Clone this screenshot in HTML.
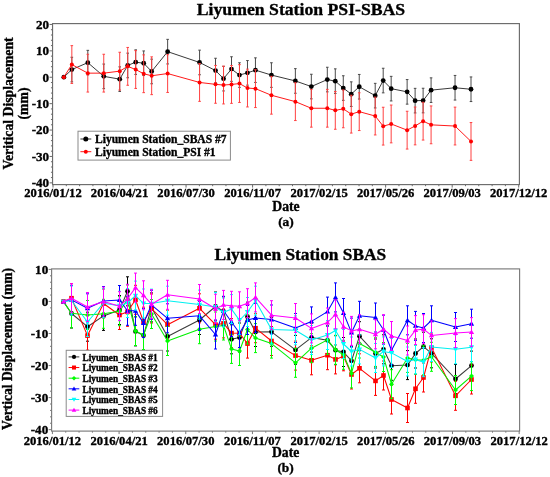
<!DOCTYPE html>
<html><head><meta charset="utf-8"><title>Liyumen Station</title>
<style>html,body{margin:0;padding:0;background:#fff;width:550px;height:477px;overflow:hidden}svg{display:block}</style>
</head><body>
<svg width="550" height="477" viewBox="0 0 550 477">
<rect width="550" height="477" fill="#fff"/>
<g>
<path d="M49.55,182.85H52.55M50.95,177.57H52.55M50.95,172.29H52.55M50.95,167.01H52.55M50.95,161.73H52.55M49.55,156.45H52.55M50.95,151.17H52.55M50.95,145.89H52.55M50.95,140.61H52.55M50.95,135.33H52.55M49.55,130.05H52.55M50.95,124.77H52.55M50.95,119.49H52.55M50.95,114.21H52.55M50.95,108.93H52.55M49.55,103.65H52.55M50.95,98.37H52.55M50.95,93.09H52.55M50.95,87.81H52.55M50.95,82.53H52.55M49.55,77.25H52.55M50.95,71.97H52.55M50.95,66.69H52.55M50.95,61.41H52.55M50.95,56.13H52.55M49.55,50.85H52.55M50.95,45.57H52.55M50.95,40.29H52.55M50.95,35.01H52.55M50.95,29.73H52.55M49.55,24.45H52.55M53.00,184.6V187.60M66.31,184.6V186.20M79.61,184.6V186.20M92.92,184.6V186.20M106.22,184.6V186.20M119.53,184.6V187.60M132.84,184.6V186.20M146.14,184.6V186.20M159.45,184.6V186.20M172.75,184.6V186.20M186.06,184.6V187.60M199.37,184.6V186.20M212.67,184.6V186.20M225.98,184.6V186.20M239.28,184.6V186.20M252.59,184.6V187.60M265.90,184.6V186.20M279.20,184.6V186.20M292.51,184.6V186.20M305.81,184.6V186.20M319.12,184.6V187.60M332.43,184.6V186.20M345.73,184.6V186.20M359.04,184.6V186.20M372.34,184.6V186.20M385.65,184.6V187.60M398.96,184.6V186.20M412.26,184.6V186.20M425.57,184.6V186.20M438.87,184.6V186.20M452.18,184.6V187.60M465.49,184.6V186.20M478.79,184.6V186.20M492.10,184.6V186.20M505.40,184.6V186.20M518.71,184.6V187.60" stroke="#6b6b6b" stroke-width="1" fill="none"/>
<rect x="52.55" y="23.6" width="466.85" height="161.00" fill="none" stroke="#6b6b6b" stroke-width="1.15"/>
<text transform="translate(49.15,187.15) scale(1,1.0)" text-anchor="end" font-size="13.1" font-family="'Liberation Serif','Times New Roman',serif" font-weight="bold" stroke="#000" stroke-width="0.35">-40</text>
<text transform="translate(49.15,160.75) scale(1,1.0)" text-anchor="end" font-size="13.1" font-family="'Liberation Serif','Times New Roman',serif" font-weight="bold" stroke="#000" stroke-width="0.35">-30</text>
<text transform="translate(49.15,134.35) scale(1,1.0)" text-anchor="end" font-size="13.1" font-family="'Liberation Serif','Times New Roman',serif" font-weight="bold" stroke="#000" stroke-width="0.35">-20</text>
<text transform="translate(49.15,107.95) scale(1,1.0)" text-anchor="end" font-size="13.1" font-family="'Liberation Serif','Times New Roman',serif" font-weight="bold" stroke="#000" stroke-width="0.35">-10</text>
<text transform="translate(49.15,81.55) scale(1,1.0)" text-anchor="end" font-size="13.1" font-family="'Liberation Serif','Times New Roman',serif" font-weight="bold" stroke="#000" stroke-width="0.35">0</text>
<text transform="translate(49.15,55.15) scale(1,1.0)" text-anchor="end" font-size="13.1" font-family="'Liberation Serif','Times New Roman',serif" font-weight="bold" stroke="#000" stroke-width="0.35">10</text>
<text transform="translate(49.15,28.75) scale(1,1.0)" text-anchor="end" font-size="13.1" font-family="'Liberation Serif','Times New Roman',serif" font-weight="bold" stroke="#000" stroke-width="0.35">20</text>
<text transform="translate(53.00,197.30) scale(1,1.0)" text-anchor="middle" font-size="12.6" font-family="'Liberation Serif','Times New Roman',serif" font-weight="bold" stroke="#000" stroke-width="0.35">2016/01/12</text>
<text transform="translate(119.53,197.30) scale(1,1.0)" text-anchor="middle" font-size="12.6" font-family="'Liberation Serif','Times New Roman',serif" font-weight="bold" stroke="#000" stroke-width="0.35">2016/04/21</text>
<text transform="translate(186.06,197.30) scale(1,1.0)" text-anchor="middle" font-size="12.6" font-family="'Liberation Serif','Times New Roman',serif" font-weight="bold" stroke="#000" stroke-width="0.35">2016/07/30</text>
<text transform="translate(252.59,197.30) scale(1,1.0)" text-anchor="middle" font-size="12.6" font-family="'Liberation Serif','Times New Roman',serif" font-weight="bold" stroke="#000" stroke-width="0.35">2016/11/07</text>
<text transform="translate(319.12,197.30) scale(1,1.0)" text-anchor="middle" font-size="12.6" font-family="'Liberation Serif','Times New Roman',serif" font-weight="bold" stroke="#000" stroke-width="0.35">2017/02/15</text>
<text transform="translate(385.65,197.30) scale(1,1.0)" text-anchor="middle" font-size="12.6" font-family="'Liberation Serif','Times New Roman',serif" font-weight="bold" stroke="#000" stroke-width="0.35">2017/05/26</text>
<text transform="translate(452.18,197.30) scale(1,1.0)" text-anchor="middle" font-size="12.6" font-family="'Liberation Serif','Times New Roman',serif" font-weight="bold" stroke="#000" stroke-width="0.35">2017/09/03</text>
<text transform="translate(518.71,197.30) scale(1,1.0)" text-anchor="middle" font-size="12.6" font-family="'Liberation Serif','Times New Roman',serif" font-weight="bold" stroke="#000" stroke-width="0.35">2017/12/12</text>
<text transform="translate(285.97,210.90) scale(1,1.0)" text-anchor="middle" font-size="13.7" font-family="'Liberation Serif','Times New Roman',serif" font-weight="bold" stroke="#000" stroke-width="0.35">Date</text>
<text transform="translate(285.97,225.90) scale(1,1.0)" text-anchor="middle" font-size="13.4" font-family="'Liberation Serif','Times New Roman',serif" font-weight="bold" stroke="#000" stroke-width="0.35">(a)</text>
<text transform="translate(301.00,14.70) scale(1,1.0)" text-anchor="middle" font-size="17.7" font-family="'Liberation Serif','Times New Roman',serif" font-weight="bold" stroke="#000" stroke-width="0.35">Liyumen Station PSI-SBAS</text>
<path d="M71.83,57.25V81.85M70.53,57.25h2.60M70.53,81.85h2.60M87.80,50.35V74.95M86.50,50.35h2.60M86.50,74.95h2.60M103.76,64.05V88.65M102.46,64.05h2.60M102.46,88.65h2.60M119.73,66.85V91.45M118.43,66.85h2.60M118.43,91.45h2.60M127.71,53.15V77.75M126.41,53.15h2.60M126.41,77.75h2.60M135.70,49.85V74.45M134.40,49.85h2.60M134.40,74.45h2.60M143.68,50.95V75.55M142.38,50.95h2.60M142.38,75.55h2.60M151.66,59.15V83.75M150.36,59.15h2.60M150.36,83.75h2.60M167.63,39.35V63.95M166.33,39.35h2.60M166.33,63.95h2.60M199.57,50.15V74.75M198.27,50.15h2.60M198.27,74.75h2.60M215.53,58.25V82.85M214.23,58.25h2.60M214.23,82.85h2.60M223.52,66.35V90.95M222.22,66.35h2.60M222.22,90.95h2.60M231.50,56.75V81.35M230.20,56.75h2.60M230.20,81.35h2.60M239.48,62.75V87.35M238.18,62.75h2.60M238.18,87.35h2.60M247.47,60.55V85.15M246.17,60.55h2.60M246.17,85.15h2.60M255.45,57.85V82.45M254.15,57.85h2.60M254.15,82.45h2.60M271.42,62.75V87.35M270.12,62.75h2.60M270.12,87.35h2.60M295.37,68.65V93.25M294.07,68.65h2.60M294.07,93.25h2.60M311.34,74.25V98.85M310.04,74.25h2.60M310.04,98.85h2.60M327.30,67.25V91.85M326.00,67.25h2.60M326.00,91.85h2.60M335.29,68.85V93.45M333.99,68.85h2.60M333.99,93.45h2.60M343.27,75.75V100.35M341.97,75.75h2.60M341.97,100.35h2.60M351.25,81.85V106.45M349.95,81.85h2.60M349.95,106.45h2.60M359.24,74.45V99.05M357.94,74.45h2.60M357.94,99.05h2.60M375.21,83.35V107.95M373.91,83.35h2.60M373.91,107.95h2.60M383.19,68.25V92.85M381.89,68.25h2.60M381.89,92.85h2.60M391.17,76.35V100.95M389.87,76.35h2.60M389.87,100.95h2.60M407.14,79.55V104.15M405.84,79.55h2.60M405.84,104.15h2.60M415.12,88.35V112.95M413.82,88.35h2.60M413.82,112.95h2.60M423.11,88.25V112.85M421.81,88.25h2.60M421.81,112.85h2.60M431.09,77.85V102.45M429.79,77.85h2.60M429.79,102.45h2.60M455.04,75.45V100.05M453.74,75.45h2.60M453.74,100.05h2.60M471.01,76.95V101.55M469.71,76.95h2.60M469.71,101.55h2.60" stroke="#4a4a4a" stroke-width="1.0" fill="none"/>
<polyline points="63.84,77.15 71.83,69.55 87.80,62.65 103.76,76.35 119.73,79.15 127.71,65.45 135.70,62.15 143.68,63.25 151.66,71.45 167.63,51.65 199.57,62.45 215.53,70.55 223.52,78.65 231.50,69.05 239.48,75.05 247.47,72.85 255.45,70.15 271.42,75.05 295.37,80.95 311.34,86.55 327.30,79.55 335.29,81.15 343.27,88.05 351.25,94.15 359.24,86.75 375.21,95.65 383.19,80.55 391.17,88.65 407.14,91.85 415.12,100.65 423.11,100.55 431.09,90.15 455.04,87.75 471.01,89.25" stroke="#3a3a3a" stroke-width="1.0" fill="none" stroke-linejoin="round"/>
<circle cx="63.84" cy="77.15" r="2.4" fill="#000"/>
<circle cx="71.83" cy="69.55" r="2.4" fill="#000"/>
<circle cx="87.80" cy="62.65" r="2.4" fill="#000"/>
<circle cx="103.76" cy="76.35" r="2.4" fill="#000"/>
<circle cx="119.73" cy="79.15" r="2.4" fill="#000"/>
<circle cx="127.71" cy="65.45" r="2.4" fill="#000"/>
<circle cx="135.70" cy="62.15" r="2.4" fill="#000"/>
<circle cx="143.68" cy="63.25" r="2.4" fill="#000"/>
<circle cx="151.66" cy="71.45" r="2.4" fill="#000"/>
<circle cx="167.63" cy="51.65" r="2.4" fill="#000"/>
<circle cx="199.57" cy="62.45" r="2.4" fill="#000"/>
<circle cx="215.53" cy="70.55" r="2.4" fill="#000"/>
<circle cx="223.52" cy="78.65" r="2.4" fill="#000"/>
<circle cx="231.50" cy="69.05" r="2.4" fill="#000"/>
<circle cx="239.48" cy="75.05" r="2.4" fill="#000"/>
<circle cx="247.47" cy="72.85" r="2.4" fill="#000"/>
<circle cx="255.45" cy="70.15" r="2.4" fill="#000"/>
<circle cx="271.42" cy="75.05" r="2.4" fill="#000"/>
<circle cx="295.37" cy="80.95" r="2.4" fill="#000"/>
<circle cx="311.34" cy="86.55" r="2.4" fill="#000"/>
<circle cx="327.30" cy="79.55" r="2.4" fill="#000"/>
<circle cx="335.29" cy="81.15" r="2.4" fill="#000"/>
<circle cx="343.27" cy="88.05" r="2.4" fill="#000"/>
<circle cx="351.25" cy="94.15" r="2.4" fill="#000"/>
<circle cx="359.24" cy="86.75" r="2.4" fill="#000"/>
<circle cx="375.21" cy="95.65" r="2.4" fill="#000"/>
<circle cx="383.19" cy="80.55" r="2.4" fill="#000"/>
<circle cx="391.17" cy="88.65" r="2.4" fill="#000"/>
<circle cx="407.14" cy="91.85" r="2.4" fill="#000"/>
<circle cx="415.12" cy="100.65" r="2.4" fill="#000"/>
<circle cx="423.11" cy="100.55" r="2.4" fill="#000"/>
<circle cx="431.09" cy="90.15" r="2.4" fill="#000"/>
<circle cx="455.04" cy="87.75" r="2.4" fill="#000"/>
<circle cx="471.01" cy="89.25" r="2.4" fill="#000"/>
<path d="M71.83,45.65V83.45M70.53,45.65h2.60M70.53,83.45h2.60M87.80,54.25V92.05M86.50,54.25h2.60M86.50,92.05h2.60M103.76,54.25V92.05M102.46,54.25h2.60M102.46,92.05h2.60M119.73,52.25V90.05M118.43,52.25h2.60M118.43,90.05h2.60M127.71,47.45V85.25M126.41,47.45h2.60M126.41,85.25h2.60M135.70,50.65V88.45M134.40,50.65h2.60M134.40,88.45h2.60M143.68,54.85V92.65M142.38,54.85h2.60M142.38,92.65h2.60M151.66,56.85V94.65M150.36,56.85h2.60M150.36,94.65h2.60M167.63,54.65V92.45M166.33,54.65h2.60M166.33,92.45h2.60M199.57,63.55V101.35M198.27,63.55h2.60M198.27,101.35h2.60M215.53,65.45V103.25M214.23,65.45h2.60M214.23,103.25h2.60M223.52,66.15V103.95M222.22,66.15h2.60M222.22,103.95h2.60M231.50,65.55V103.35M230.20,65.55h2.60M230.20,103.35h2.60M239.48,64.65V102.45M238.18,64.65h2.60M238.18,102.45h2.60M247.47,69.15V106.95M246.17,69.15h2.60M246.17,106.95h2.60M255.45,69.75V107.55M254.15,69.75h2.60M254.15,107.55h2.60M271.42,76.35V114.15M270.12,76.35h2.60M270.12,114.15h2.60M295.37,82.75V120.55M294.07,82.75h2.60M294.07,120.55h2.60M311.34,89.35V127.15M310.04,89.35h2.60M310.04,127.15h2.60M327.30,89.35V127.15M326.00,89.35h2.60M326.00,127.15h2.60M335.29,91.45V129.25M333.99,91.45h2.60M333.99,129.25h2.60M343.27,89.95V127.75M341.97,89.95h2.60M341.97,127.75h2.60M351.25,95.25V133.05M349.95,95.25h2.60M349.95,133.05h2.60M359.24,92.75V130.55M357.94,92.75h2.60M357.94,130.55h2.60M375.21,97.15V134.95M373.91,97.15h2.60M373.91,134.95h2.60M383.19,107.25V145.05M381.89,107.25h2.60M381.89,145.05h2.60M391.17,105.05V142.85M389.87,105.05h2.60M389.87,142.85h2.60M407.14,111.25V149.05M405.84,111.25h2.60M405.84,149.05h2.60M415.12,107.05V144.85M413.82,107.05h2.60M413.82,144.85h2.60M423.11,102.25V140.05M421.81,102.25h2.60M421.81,140.05h2.60M431.09,105.95V143.75M429.79,105.95h2.60M429.79,143.75h2.60M455.04,107.15V144.95M453.74,107.15h2.60M453.74,144.95h2.60M471.01,122.55V160.35M469.71,122.55h2.60M469.71,160.35h2.60" stroke="#ff4040" stroke-width="1.0" fill="none"/>
<polyline points="63.84,77.15 71.83,64.55 87.80,73.15 103.76,73.15 119.73,71.15 127.71,66.35 135.70,69.55 143.68,73.75 151.66,75.75 167.63,73.55 199.57,82.45 215.53,84.35 223.52,85.05 231.50,84.45 239.48,83.55 247.47,88.05 255.45,88.65 271.42,95.25 295.37,101.65 311.34,108.25 327.30,108.25 335.29,110.35 343.27,108.85 351.25,114.15 359.24,111.65 375.21,116.05 383.19,126.15 391.17,123.95 407.14,130.15 415.12,125.95 423.11,121.15 431.09,124.85 455.04,126.05 471.01,141.45" stroke="#ff1a1a" stroke-width="1.0" fill="none" stroke-linejoin="round"/>
<circle cx="63.84" cy="77.15" r="2.0" fill="#f00"/>
<circle cx="71.83" cy="64.55" r="2.0" fill="#f00"/>
<circle cx="87.80" cy="73.15" r="2.0" fill="#f00"/>
<circle cx="103.76" cy="73.15" r="2.0" fill="#f00"/>
<circle cx="119.73" cy="71.15" r="2.0" fill="#f00"/>
<circle cx="127.71" cy="66.35" r="2.0" fill="#f00"/>
<circle cx="135.70" cy="69.55" r="2.0" fill="#f00"/>
<circle cx="143.68" cy="73.75" r="2.0" fill="#f00"/>
<circle cx="151.66" cy="75.75" r="2.0" fill="#f00"/>
<circle cx="167.63" cy="73.55" r="2.0" fill="#f00"/>
<circle cx="199.57" cy="82.45" r="2.0" fill="#f00"/>
<circle cx="215.53" cy="84.35" r="2.0" fill="#f00"/>
<circle cx="223.52" cy="85.05" r="2.0" fill="#f00"/>
<circle cx="231.50" cy="84.45" r="2.0" fill="#f00"/>
<circle cx="239.48" cy="83.55" r="2.0" fill="#f00"/>
<circle cx="247.47" cy="88.05" r="2.0" fill="#f00"/>
<circle cx="255.45" cy="88.65" r="2.0" fill="#f00"/>
<circle cx="271.42" cy="95.25" r="2.0" fill="#f00"/>
<circle cx="295.37" cy="101.65" r="2.0" fill="#f00"/>
<circle cx="311.34" cy="108.25" r="2.0" fill="#f00"/>
<circle cx="327.30" cy="108.25" r="2.0" fill="#f00"/>
<circle cx="335.29" cy="110.35" r="2.0" fill="#f00"/>
<circle cx="343.27" cy="108.85" r="2.0" fill="#f00"/>
<circle cx="351.25" cy="114.15" r="2.0" fill="#f00"/>
<circle cx="359.24" cy="111.65" r="2.0" fill="#f00"/>
<circle cx="375.21" cy="116.05" r="2.0" fill="#f00"/>
<circle cx="383.19" cy="126.15" r="2.0" fill="#f00"/>
<circle cx="391.17" cy="123.95" r="2.0" fill="#f00"/>
<circle cx="407.14" cy="130.15" r="2.0" fill="#f00"/>
<circle cx="415.12" cy="125.95" r="2.0" fill="#f00"/>
<circle cx="423.11" cy="121.15" r="2.0" fill="#f00"/>
<circle cx="431.09" cy="124.85" r="2.0" fill="#f00"/>
<circle cx="455.04" cy="126.05" r="2.0" fill="#f00"/>
<circle cx="471.01" cy="141.45" r="2.0" fill="#f00"/>
<rect x="78.0" y="131.2" width="152.4" height="28.9" fill="#fff" stroke="#8a8a8a" stroke-width="1"/>
<path d="M80.4,139.00H91.3" stroke="#333" stroke-width="1"/>
<circle cx="85.80" cy="139.00" r="2.5" fill="#000"/>
<text transform="translate(95.00,142.90) scale(1,1.0)" font-size="11.55" font-family="'Liberation Serif','Times New Roman',serif" font-weight="bold" stroke="#000" stroke-width="0.35">Liyumen Station_SBAS #7</text>
<path d="M80.4,151.70H91.3" stroke="#ff1a1a" stroke-width="1"/>
<circle cx="85.80" cy="151.70" r="2.0" fill="#f00"/>
<text transform="translate(95.00,155.60) scale(1,1.0)" font-size="11.55" font-family="'Liberation Serif','Times New Roman',serif" font-weight="bold" stroke="#000" stroke-width="0.35">Liyumen Station_PSI #1</text>
<text transform="translate(13.3,103.5) rotate(-90)" text-anchor="middle" font-size="13.7" font-family="'Liberation Serif','Times New Roman',serif" font-weight="bold" stroke="#000" stroke-width="0.35">Veritical Displacement</text>
<text transform="translate(28.0,103.5) rotate(-90)" text-anchor="middle" font-size="13.7" font-family="'Liberation Serif','Times New Roman',serif" font-weight="bold" stroke="#000" stroke-width="0.35">(mm)</text>
<path d="M48.60,429.65H51.6M50.00,423.24H51.6M50.00,416.83H51.6M50.00,410.42H51.6M50.00,404.01H51.6M48.60,397.60H51.6M50.00,391.19H51.6M50.00,384.78H51.6M50.00,378.37H51.6M50.00,371.96H51.6M48.60,365.55H51.6M50.00,359.14H51.6M50.00,352.73H51.6M50.00,346.32H51.6M50.00,339.91H51.6M48.60,333.50H51.6M50.00,327.09H51.6M50.00,320.68H51.6M50.00,314.27H51.6M50.00,307.86H51.6M48.60,301.45H51.6M50.00,295.04H51.6M50.00,288.63H51.6M50.00,282.22H51.6M50.00,275.81H51.6M48.60,269.40H51.6M52.40,431.1V434.10M65.74,431.1V432.70M79.07,431.1V432.70M92.41,431.1V432.70M105.74,431.1V432.70M119.08,431.1V434.10M132.42,431.1V432.70M145.75,431.1V432.70M159.09,431.1V432.70M172.42,431.1V432.70M185.76,431.1V434.10M199.10,431.1V432.70M212.43,431.1V432.70M225.77,431.1V432.70M239.10,431.1V432.70M252.44,431.1V434.10M265.78,431.1V432.70M279.11,431.1V432.70M292.45,431.1V432.70M305.78,431.1V432.70M319.12,431.1V434.10M332.46,431.1V432.70M345.79,431.1V432.70M359.13,431.1V432.70M372.46,431.1V432.70M385.80,431.1V434.10M399.14,431.1V432.70M412.47,431.1V432.70M425.81,431.1V432.70M439.14,431.1V432.70M452.48,431.1V434.10M465.82,431.1V432.70M479.15,431.1V432.70M492.49,431.1V432.70M505.82,431.1V432.70M519.16,431.1V434.10" stroke="#7a7a7a" stroke-width="1" fill="none"/>
<rect x="51.6" y="268.9" width="468.00" height="162.20" fill="none" stroke="#7a7a7a" stroke-width="1.15"/>
<text transform="translate(48.20,433.95) scale(1,1.0)" text-anchor="end" font-size="13.1" font-family="'Liberation Serif','Times New Roman',serif" font-weight="bold" stroke="#000" stroke-width="0.35">-40</text>
<text transform="translate(48.20,401.90) scale(1,1.0)" text-anchor="end" font-size="13.1" font-family="'Liberation Serif','Times New Roman',serif" font-weight="bold" stroke="#000" stroke-width="0.35">-30</text>
<text transform="translate(48.20,369.85) scale(1,1.0)" text-anchor="end" font-size="13.1" font-family="'Liberation Serif','Times New Roman',serif" font-weight="bold" stroke="#000" stroke-width="0.35">-20</text>
<text transform="translate(48.20,337.80) scale(1,1.0)" text-anchor="end" font-size="13.1" font-family="'Liberation Serif','Times New Roman',serif" font-weight="bold" stroke="#000" stroke-width="0.35">-10</text>
<text transform="translate(48.20,305.75) scale(1,1.0)" text-anchor="end" font-size="13.1" font-family="'Liberation Serif','Times New Roman',serif" font-weight="bold" stroke="#000" stroke-width="0.35">0</text>
<text transform="translate(48.20,273.70) scale(1,1.0)" text-anchor="end" font-size="13.1" font-family="'Liberation Serif','Times New Roman',serif" font-weight="bold" stroke="#000" stroke-width="0.35">10</text>
<text transform="translate(52.40,444.60) scale(1,1.0)" text-anchor="middle" font-size="12.6" font-family="'Liberation Serif','Times New Roman',serif" font-weight="bold" stroke="#000" stroke-width="0.35">2016/01/12</text>
<text transform="translate(119.08,444.60) scale(1,1.0)" text-anchor="middle" font-size="12.6" font-family="'Liberation Serif','Times New Roman',serif" font-weight="bold" stroke="#000" stroke-width="0.35">2016/04/21</text>
<text transform="translate(185.76,444.60) scale(1,1.0)" text-anchor="middle" font-size="12.6" font-family="'Liberation Serif','Times New Roman',serif" font-weight="bold" stroke="#000" stroke-width="0.35">2016/07/30</text>
<text transform="translate(252.44,444.60) scale(1,1.0)" text-anchor="middle" font-size="12.6" font-family="'Liberation Serif','Times New Roman',serif" font-weight="bold" stroke="#000" stroke-width="0.35">2016/11/07</text>
<text transform="translate(319.12,444.60) scale(1,1.0)" text-anchor="middle" font-size="12.6" font-family="'Liberation Serif','Times New Roman',serif" font-weight="bold" stroke="#000" stroke-width="0.35">2017/02/15</text>
<text transform="translate(385.80,444.60) scale(1,1.0)" text-anchor="middle" font-size="12.6" font-family="'Liberation Serif','Times New Roman',serif" font-weight="bold" stroke="#000" stroke-width="0.35">2017/05/26</text>
<text transform="translate(452.48,444.60) scale(1,1.0)" text-anchor="middle" font-size="12.6" font-family="'Liberation Serif','Times New Roman',serif" font-weight="bold" stroke="#000" stroke-width="0.35">2017/09/03</text>
<text transform="translate(519.16,444.60) scale(1,1.0)" text-anchor="middle" font-size="12.6" font-family="'Liberation Serif','Times New Roman',serif" font-weight="bold" stroke="#000" stroke-width="0.35">2017/12/12</text>
<text transform="translate(285.60,457.00) scale(1,1.0)" text-anchor="middle" font-size="13.7" font-family="'Liberation Serif','Times New Roman',serif" font-weight="bold" stroke="#000" stroke-width="0.35">Date</text>
<text transform="translate(285.60,471.80) scale(1,1.0)" text-anchor="middle" font-size="13.4" font-family="'Liberation Serif','Times New Roman',serif" font-weight="bold" stroke="#000" stroke-width="0.35">(b)</text>
<text transform="translate(300.40,260.40) scale(1,1.0)" text-anchor="middle" font-size="17.35" font-family="'Liberation Serif','Times New Roman',serif" font-weight="bold" stroke="#000" stroke-width="0.35">Liyumen Station SBAS</text>
<path d="M71.50,299.00V328.00M70.00,299.00h3.00M70.00,328.00h3.00M87.50,312.20V341.20M86.00,312.20h3.00M86.00,341.20h3.00M103.50,301.40V330.40M102.00,301.40h3.00M102.00,330.40h3.00M119.50,295.50V324.50M118.00,295.50h3.00M118.00,324.50h3.00M127.50,276.80V305.80M126.00,276.80h3.00M126.00,305.80h3.00M135.50,316.90V345.90M134.00,316.90h3.00M134.00,345.90h3.00M143.50,321.00V350.00M142.00,321.00h3.00M142.00,350.00h3.00M151.50,292.90V321.90M150.00,292.90h3.00M150.00,321.90h3.00M167.50,322.00V351.00M166.00,322.00h3.00M166.00,351.00h3.00M199.50,305.50V334.50M198.00,305.50h3.00M198.00,334.50h3.00M215.50,292.00V321.00M214.00,292.00h3.00M214.00,321.00h3.00M223.50,296.80V325.80M222.00,296.80h3.00M222.00,325.80h3.00M231.50,324.80V353.80M230.00,324.80h3.00M230.00,353.80h3.00M239.50,323.00V352.00M238.00,323.00h3.00M238.00,352.00h3.00M247.50,302.20V331.20M246.00,302.20h3.00M246.00,331.20h3.00M255.50,317.50V346.50M254.00,317.50h3.00M254.00,346.50h3.00M271.50,317.30V346.30M270.00,317.30h3.00M270.00,346.30h3.00M295.50,335.40V364.40M294.00,335.40h3.00M294.00,364.40h3.00M311.50,323.10V352.10M310.00,323.10h3.00M310.00,352.10h3.00M327.50,325.80V354.80M326.00,325.80h3.00M326.00,354.80h3.00M335.50,335.70V364.70M334.00,335.70h3.00M334.00,364.70h3.00M343.50,337.50V366.50M342.00,337.50h3.00M342.00,366.50h3.00M351.50,346.30V375.30M350.00,346.30h3.00M350.00,375.30h3.00M359.50,321.70V350.70M358.00,321.70h3.00M358.00,350.70h3.00M375.50,339.00V368.00M374.00,339.00h3.00M374.00,368.00h3.00M383.50,334.80V363.80M382.00,334.80h3.00M382.00,363.80h3.00M391.50,351.30V380.30M390.00,351.30h3.00M390.00,380.30h3.00M407.50,350.60V379.60M406.00,350.60h3.00M406.00,379.60h3.00M415.50,339.00V368.00M414.00,339.00h3.00M414.00,368.00h3.00M423.50,332.20V361.20M422.00,332.20h3.00M422.00,361.20h3.00M431.50,338.80V367.80M430.00,338.80h3.00M430.00,367.80h3.00M455.50,364.50V393.50M454.00,364.50h3.00M454.00,393.50h3.00M471.50,351.10V380.10M470.00,351.10h3.00M470.00,380.10h3.00" stroke="#000" stroke-width="1.0" fill="none"/>
<polyline points="63.50,301.60 71.50,313.50 87.50,326.70 103.50,315.90 119.50,310.00 127.50,291.30 135.50,331.40 143.50,335.50 151.50,307.40 167.50,336.50 199.50,320.00 215.50,306.50 223.50,311.30 231.50,339.30 239.50,337.50 247.50,316.70 255.50,332.00 271.50,331.80 295.50,349.90 311.50,337.60 327.50,340.30 335.50,350.20 343.50,352.00 351.50,360.80 359.50,336.20 375.50,353.50 383.50,349.30 391.50,365.80 407.50,365.10 415.50,353.50 423.50,346.70 431.50,353.30 455.50,379.00 471.50,365.60" stroke="#3a3a3a" stroke-width="1.05" fill="none" stroke-linejoin="round"/>
<circle cx="63.50" cy="301.60" r="2.4" fill="#000"/>
<circle cx="71.50" cy="313.50" r="2.4" fill="#000"/>
<circle cx="87.50" cy="326.70" r="2.4" fill="#000"/>
<circle cx="103.50" cy="315.90" r="2.4" fill="#000"/>
<circle cx="119.50" cy="310.00" r="2.4" fill="#000"/>
<circle cx="127.50" cy="291.30" r="2.4" fill="#000"/>
<circle cx="135.50" cy="331.40" r="2.4" fill="#000"/>
<circle cx="143.50" cy="335.50" r="2.4" fill="#000"/>
<circle cx="151.50" cy="307.40" r="2.4" fill="#000"/>
<circle cx="167.50" cy="336.50" r="2.4" fill="#000"/>
<circle cx="199.50" cy="320.00" r="2.4" fill="#000"/>
<circle cx="215.50" cy="306.50" r="2.4" fill="#000"/>
<circle cx="223.50" cy="311.30" r="2.4" fill="#000"/>
<circle cx="231.50" cy="339.30" r="2.4" fill="#000"/>
<circle cx="239.50" cy="337.50" r="2.4" fill="#000"/>
<circle cx="247.50" cy="316.70" r="2.4" fill="#000"/>
<circle cx="255.50" cy="332.00" r="2.4" fill="#000"/>
<circle cx="271.50" cy="331.80" r="2.4" fill="#000"/>
<circle cx="295.50" cy="349.90" r="2.4" fill="#000"/>
<circle cx="311.50" cy="337.60" r="2.4" fill="#000"/>
<circle cx="327.50" cy="340.30" r="2.4" fill="#000"/>
<circle cx="335.50" cy="350.20" r="2.4" fill="#000"/>
<circle cx="343.50" cy="352.00" r="2.4" fill="#000"/>
<circle cx="351.50" cy="360.80" r="2.4" fill="#000"/>
<circle cx="359.50" cy="336.20" r="2.4" fill="#000"/>
<circle cx="375.50" cy="353.50" r="2.4" fill="#000"/>
<circle cx="383.50" cy="349.30" r="2.4" fill="#000"/>
<circle cx="391.50" cy="365.80" r="2.4" fill="#000"/>
<circle cx="407.50" cy="365.10" r="2.4" fill="#000"/>
<circle cx="415.50" cy="353.50" r="2.4" fill="#000"/>
<circle cx="423.50" cy="346.70" r="2.4" fill="#000"/>
<circle cx="431.50" cy="353.30" r="2.4" fill="#000"/>
<circle cx="455.50" cy="379.00" r="2.4" fill="#000"/>
<circle cx="471.50" cy="365.60" r="2.4" fill="#000"/>
<path d="M71.50,283.70V312.70M70.00,283.70h3.00M70.00,312.70h3.00M87.50,321.10V350.10M86.00,321.10h3.00M86.00,350.10h3.00M103.50,289.00V318.00M102.00,289.00h3.00M102.00,318.00h3.00M119.50,300.50V329.50M118.00,300.50h3.00M118.00,329.50h3.00M127.50,297.30V326.30M126.00,297.30h3.00M126.00,326.30h3.00M135.50,285.30V314.30M134.00,285.30h3.00M134.00,314.30h3.00M143.50,307.20V336.20M142.00,307.20h3.00M142.00,336.20h3.00M151.50,294.00V323.00M150.00,294.00h3.00M150.00,323.00h3.00M167.50,310.20V339.20M166.00,310.20h3.00M166.00,339.20h3.00M199.50,293.80V322.80M198.00,293.80h3.00M198.00,322.80h3.00M215.50,310.20V339.20M214.00,310.20h3.00M214.00,339.20h3.00M223.50,308.90V337.90M222.00,308.90h3.00M222.00,337.90h3.00M231.50,318.60V347.60M230.00,318.60h3.00M230.00,347.60h3.00M239.50,318.70V347.70M238.00,318.70h3.00M238.00,347.70h3.00M247.50,329.10V358.10M246.00,329.10h3.00M246.00,358.10h3.00M255.50,313.70V342.70M254.00,313.70h3.00M254.00,342.70h3.00M271.50,326.50V355.50M270.00,326.50h3.00M270.00,355.50h3.00M295.50,341.10V370.10M294.00,341.10h3.00M294.00,370.10h3.00M311.50,345.80V374.80M310.00,345.80h3.00M310.00,374.80h3.00M327.50,340.70V369.70M326.00,340.70h3.00M326.00,369.70h3.00M335.50,344.90V373.90M334.00,344.90h3.00M334.00,373.90h3.00M343.50,341.80V370.80M342.00,341.80h3.00M342.00,370.80h3.00M351.50,360.00V389.00M350.00,360.00h3.00M350.00,389.00h3.00M359.50,353.80V382.80M358.00,353.80h3.00M358.00,382.80h3.00M375.50,366.40V395.40M374.00,366.40h3.00M374.00,395.40h3.00M383.50,361.00V390.00M382.00,361.00h3.00M382.00,390.00h3.00M391.50,385.00V414.00M390.00,385.00h3.00M390.00,414.00h3.00M407.50,393.50V422.50M406.00,393.50h3.00M406.00,422.50h3.00M415.50,374.30V403.30M414.00,374.30h3.00M414.00,403.30h3.00M423.50,363.00V392.00M422.00,363.00h3.00M422.00,392.00h3.00M431.50,333.00V362.00M430.00,333.00h3.00M430.00,362.00h3.00M455.50,381.30V410.30M454.00,381.30h3.00M454.00,410.30h3.00M471.50,365.00V394.00M470.00,365.00h3.00M470.00,394.00h3.00" stroke="#f00" stroke-width="1.0" fill="none"/>
<polyline points="63.50,301.60 71.50,298.20 87.50,335.60 103.50,303.50 119.50,315.00 127.50,311.80 135.50,299.80 143.50,321.70 151.50,308.50 167.50,324.70 199.50,308.30 215.50,324.70 223.50,323.40 231.50,333.10 239.50,333.20 247.50,343.60 255.50,328.20 271.50,341.00 295.50,355.60 311.50,360.30 327.50,355.20 335.50,359.40 343.50,356.30 351.50,374.50 359.50,368.30 375.50,380.90 383.50,375.50 391.50,399.50 407.50,408.00 415.50,388.80 423.50,377.50 431.50,347.50 455.50,395.80 471.50,379.50" stroke="#f00" stroke-width="1.05" fill="none" stroke-linejoin="round"/>
<rect x="61.20" y="299.30" width="4.60" height="4.60" fill="#f00"/>
<rect x="69.20" y="295.90" width="4.60" height="4.60" fill="#f00"/>
<rect x="85.20" y="333.30" width="4.60" height="4.60" fill="#f00"/>
<rect x="101.20" y="301.20" width="4.60" height="4.60" fill="#f00"/>
<rect x="117.20" y="312.70" width="4.60" height="4.60" fill="#f00"/>
<rect x="125.20" y="309.50" width="4.60" height="4.60" fill="#f00"/>
<rect x="133.20" y="297.50" width="4.60" height="4.60" fill="#f00"/>
<rect x="141.20" y="319.40" width="4.60" height="4.60" fill="#f00"/>
<rect x="149.20" y="306.20" width="4.60" height="4.60" fill="#f00"/>
<rect x="165.20" y="322.40" width="4.60" height="4.60" fill="#f00"/>
<rect x="197.20" y="306.00" width="4.60" height="4.60" fill="#f00"/>
<rect x="213.20" y="322.40" width="4.60" height="4.60" fill="#f00"/>
<rect x="221.20" y="321.10" width="4.60" height="4.60" fill="#f00"/>
<rect x="229.20" y="330.80" width="4.60" height="4.60" fill="#f00"/>
<rect x="237.20" y="330.90" width="4.60" height="4.60" fill="#f00"/>
<rect x="245.20" y="341.30" width="4.60" height="4.60" fill="#f00"/>
<rect x="253.20" y="325.90" width="4.60" height="4.60" fill="#f00"/>
<rect x="269.20" y="338.70" width="4.60" height="4.60" fill="#f00"/>
<rect x="293.20" y="353.30" width="4.60" height="4.60" fill="#f00"/>
<rect x="309.20" y="358.00" width="4.60" height="4.60" fill="#f00"/>
<rect x="325.20" y="352.90" width="4.60" height="4.60" fill="#f00"/>
<rect x="333.20" y="357.10" width="4.60" height="4.60" fill="#f00"/>
<rect x="341.20" y="354.00" width="4.60" height="4.60" fill="#f00"/>
<rect x="349.20" y="372.20" width="4.60" height="4.60" fill="#f00"/>
<rect x="357.20" y="366.00" width="4.60" height="4.60" fill="#f00"/>
<rect x="373.20" y="378.60" width="4.60" height="4.60" fill="#f00"/>
<rect x="381.20" y="373.20" width="4.60" height="4.60" fill="#f00"/>
<rect x="389.20" y="397.20" width="4.60" height="4.60" fill="#f00"/>
<rect x="405.20" y="405.70" width="4.60" height="4.60" fill="#f00"/>
<rect x="413.20" y="386.50" width="4.60" height="4.60" fill="#f00"/>
<rect x="421.20" y="375.20" width="4.60" height="4.60" fill="#f00"/>
<rect x="429.20" y="345.20" width="4.60" height="4.60" fill="#f00"/>
<rect x="453.20" y="393.50" width="4.60" height="4.60" fill="#f00"/>
<rect x="469.20" y="377.20" width="4.60" height="4.60" fill="#f00"/>
<path d="M71.50,298.80V327.80M70.00,298.80h3.00M70.00,327.80h3.00M87.50,300.50V329.50M86.00,300.50h3.00M86.00,329.50h3.00M103.50,299.30V328.30M102.00,299.30h3.00M102.00,328.30h3.00M119.50,296.70V325.70M118.00,296.70h3.00M118.00,325.70h3.00M127.50,285.00V314.00M126.00,285.00h3.00M126.00,314.00h3.00M135.50,316.50V345.50M134.00,316.50h3.00M134.00,345.50h3.00M143.50,320.50V349.50M142.00,320.50h3.00M142.00,349.50h3.00M151.50,299.50V328.50M150.00,299.50h3.00M150.00,328.50h3.00M167.50,326.50V355.50M166.00,326.50h3.00M166.00,355.50h3.00M199.50,314.70V343.70M198.00,314.70h3.00M198.00,343.70h3.00M215.50,312.00V341.00M214.00,312.00h3.00M214.00,341.00h3.00M223.50,311.00V340.00M222.00,311.00h3.00M222.00,340.00h3.00M231.50,334.40V363.40M230.00,334.40h3.00M230.00,363.40h3.00M239.50,336.50V365.50M238.00,336.50h3.00M238.00,365.50h3.00M247.50,315.00V344.00M246.00,315.00h3.00M246.00,344.00h3.00M255.50,323.60V352.60M254.00,323.60h3.00M254.00,352.60h3.00M271.50,329.10V358.10M270.00,329.10h3.00M270.00,358.10h3.00M295.50,348.30V377.30M294.00,348.30h3.00M294.00,377.30h3.00M311.50,333.70V362.70M310.00,333.70h3.00M310.00,362.70h3.00M327.50,325.40V354.40M326.00,325.40h3.00M326.00,354.40h3.00M335.50,335.30V364.30M334.00,335.30h3.00M334.00,364.30h3.00M343.50,340.30V369.30M342.00,340.30h3.00M342.00,369.30h3.00M351.50,358.90V387.90M350.00,358.90h3.00M350.00,387.90h3.00M359.50,329.00V358.00M358.00,329.00h3.00M358.00,358.00h3.00M375.50,337.70V366.70M374.00,337.70h3.00M374.00,366.70h3.00M383.50,342.50V371.50M382.00,342.50h3.00M382.00,371.50h3.00M391.50,369.70V398.70M390.00,369.70h3.00M390.00,398.70h3.00M407.50,343.40V372.40M406.00,343.40h3.00M406.00,372.40h3.00M415.50,345.20V374.20M414.00,345.20h3.00M414.00,374.20h3.00M423.50,345.80V374.80M422.00,345.80h3.00M422.00,374.80h3.00M431.50,342.30V371.30M430.00,342.30h3.00M430.00,371.30h3.00M455.50,375.50V404.50M454.00,375.50h3.00M454.00,404.50h3.00M471.50,361.60V390.60M470.00,361.60h3.00M470.00,390.60h3.00" stroke="#00ff00" stroke-width="1.0" fill="none"/>
<polyline points="63.50,301.60 71.50,313.30 87.50,315.00 103.50,313.80 119.50,311.20 127.50,299.50 135.50,331.00 143.50,335.00 151.50,314.00 167.50,341.00 199.50,329.20 215.50,326.50 223.50,325.50 231.50,348.90 239.50,351.00 247.50,329.50 255.50,338.10 271.50,343.60 295.50,362.80 311.50,348.20 327.50,339.90 335.50,349.80 343.50,354.80 351.50,373.40 359.50,343.50 375.50,352.20 383.50,357.00 391.50,384.20 407.50,357.90 415.50,359.70 423.50,360.30 431.50,356.80 455.50,390.00 471.50,376.10" stroke="#00f000" stroke-width="1.05" fill="none" stroke-linejoin="round"/>
<path d="M63.50,299.08L66.02,301.60L63.50,304.12L60.98,301.60Z" fill="#00ff00"/>
<path d="M71.50,310.78L74.02,313.30L71.50,315.82L68.98,313.30Z" fill="#00ff00"/>
<path d="M87.50,312.48L90.02,315.00L87.50,317.52L84.98,315.00Z" fill="#00ff00"/>
<path d="M103.50,311.28L106.02,313.80L103.50,316.32L100.98,313.80Z" fill="#00ff00"/>
<path d="M119.50,308.68L122.02,311.20L119.50,313.72L116.98,311.20Z" fill="#00ff00"/>
<path d="M127.50,296.98L130.02,299.50L127.50,302.02L124.98,299.50Z" fill="#00ff00"/>
<path d="M135.50,328.48L138.02,331.00L135.50,333.52L132.98,331.00Z" fill="#00ff00"/>
<path d="M143.50,332.48L146.02,335.00L143.50,337.52L140.98,335.00Z" fill="#00ff00"/>
<path d="M151.50,311.48L154.02,314.00L151.50,316.52L148.98,314.00Z" fill="#00ff00"/>
<path d="M167.50,338.48L170.02,341.00L167.50,343.52L164.98,341.00Z" fill="#00ff00"/>
<path d="M199.50,326.68L202.02,329.20L199.50,331.72L196.98,329.20Z" fill="#00ff00"/>
<path d="M215.50,323.98L218.02,326.50L215.50,329.02L212.98,326.50Z" fill="#00ff00"/>
<path d="M223.50,322.98L226.02,325.50L223.50,328.02L220.98,325.50Z" fill="#00ff00"/>
<path d="M231.50,346.38L234.02,348.90L231.50,351.42L228.98,348.90Z" fill="#00ff00"/>
<path d="M239.50,348.48L242.02,351.00L239.50,353.52L236.98,351.00Z" fill="#00ff00"/>
<path d="M247.50,326.98L250.02,329.50L247.50,332.02L244.98,329.50Z" fill="#00ff00"/>
<path d="M255.50,335.58L258.02,338.10L255.50,340.62L252.98,338.10Z" fill="#00ff00"/>
<path d="M271.50,341.08L274.02,343.60L271.50,346.12L268.98,343.60Z" fill="#00ff00"/>
<path d="M295.50,360.28L298.02,362.80L295.50,365.32L292.98,362.80Z" fill="#00ff00"/>
<path d="M311.50,345.68L314.02,348.20L311.50,350.72L308.98,348.20Z" fill="#00ff00"/>
<path d="M327.50,337.38L330.02,339.90L327.50,342.42L324.98,339.90Z" fill="#00ff00"/>
<path d="M335.50,347.28L338.02,349.80L335.50,352.32L332.98,349.80Z" fill="#00ff00"/>
<path d="M343.50,352.28L346.02,354.80L343.50,357.32L340.98,354.80Z" fill="#00ff00"/>
<path d="M351.50,370.88L354.02,373.40L351.50,375.92L348.98,373.40Z" fill="#00ff00"/>
<path d="M359.50,340.98L362.02,343.50L359.50,346.02L356.98,343.50Z" fill="#00ff00"/>
<path d="M375.50,349.68L378.02,352.20L375.50,354.72L372.98,352.20Z" fill="#00ff00"/>
<path d="M383.50,354.48L386.02,357.00L383.50,359.52L380.98,357.00Z" fill="#00ff00"/>
<path d="M391.50,381.68L394.02,384.20L391.50,386.72L388.98,384.20Z" fill="#00ff00"/>
<path d="M407.50,355.38L410.02,357.90L407.50,360.42L404.98,357.90Z" fill="#00ff00"/>
<path d="M415.50,357.18L418.02,359.70L415.50,362.22L412.98,359.70Z" fill="#00ff00"/>
<path d="M423.50,357.78L426.02,360.30L423.50,362.82L420.98,360.30Z" fill="#00ff00"/>
<path d="M431.50,354.28L434.02,356.80L431.50,359.32L428.98,356.80Z" fill="#00ff00"/>
<path d="M455.50,387.48L458.02,390.00L455.50,392.52L452.98,390.00Z" fill="#00ff00"/>
<path d="M471.50,373.58L474.02,376.10L471.50,378.62L468.98,376.10Z" fill="#00ff00"/>
<path d="M71.50,285.40V314.40M70.00,285.40h3.00M70.00,314.40h3.00M87.50,293.80V322.80M86.00,293.80h3.00M86.00,322.80h3.00M103.50,286.50V315.50M102.00,286.50h3.00M102.00,315.50h3.00M119.50,285.50V314.50M118.00,285.50h3.00M118.00,314.50h3.00M127.50,296.30V325.30M126.00,296.30h3.00M126.00,325.30h3.00M135.50,296.30V325.30M134.00,296.30h3.00M134.00,325.30h3.00M143.50,308.60V337.60M142.00,308.60h3.00M142.00,337.60h3.00M151.50,290.30V319.30M150.00,290.30h3.00M150.00,319.30h3.00M167.50,303.80V332.80M166.00,303.80h3.00M166.00,332.80h3.00M199.50,301.30V330.30M198.00,301.30h3.00M198.00,330.30h3.00M215.50,320.00V349.00M214.00,320.00h3.00M214.00,349.00h3.00M223.50,296.30V325.30M222.00,296.30h3.00M222.00,325.30h3.00M231.50,307.50V336.50M230.00,307.50h3.00M230.00,336.50h3.00M239.50,318.50V347.50M238.00,318.50h3.00M238.00,347.50h3.00M247.50,305.50V334.50M246.00,305.50h3.00M246.00,334.50h3.00M255.50,303.50V332.50M254.00,303.50h3.00M254.00,332.50h3.00M271.50,305.00V334.00M270.00,305.00h3.00M270.00,334.00h3.00M295.50,313.50V342.50M294.00,313.50h3.00M294.00,342.50h3.00M311.50,306.90V335.90M310.00,306.90h3.00M310.00,335.90h3.00M327.50,297.10V326.10M326.00,297.10h3.00M326.00,326.10h3.00M335.50,282.90V311.90M334.00,282.90h3.00M334.00,311.90h3.00M343.50,298.50V327.50M342.00,298.50h3.00M342.00,327.50h3.00M351.50,318.10V347.10M350.00,318.10h3.00M350.00,347.10h3.00M359.50,301.30V330.30M358.00,301.30h3.00M358.00,330.30h3.00M375.50,303.00V332.00M374.00,303.00h3.00M374.00,332.00h3.00M383.50,315.20V344.20M382.00,315.20h3.00M382.00,344.20h3.00M391.50,335.70V364.70M390.00,335.70h3.00M390.00,364.70h3.00M407.50,305.80V334.80M406.00,305.80h3.00M406.00,334.80h3.00M415.50,311.40V340.40M414.00,311.40h3.00M414.00,340.40h3.00M423.50,313.50V342.50M422.00,313.50h3.00M422.00,342.50h3.00M431.50,305.80V334.80M430.00,305.80h3.00M430.00,334.80h3.00M455.50,312.50V341.50M454.00,312.50h3.00M454.00,341.50h3.00M471.50,309.20V338.20M470.00,309.20h3.00M470.00,338.20h3.00" stroke="#0000ff" stroke-width="1.0" fill="none"/>
<polyline points="63.50,301.60 71.50,299.90 87.50,308.30 103.50,301.00 119.50,300.00 127.50,310.80 135.50,310.80 143.50,323.10 151.50,304.80 167.50,318.30 199.50,315.80 215.50,334.50 223.50,310.80 231.50,322.00 239.50,333.00 247.50,320.00 255.50,318.00 271.50,319.50 295.50,328.00 311.50,321.40 327.50,311.60 335.50,297.40 343.50,313.00 351.50,332.60 359.50,315.80 375.50,317.50 383.50,329.70 391.50,350.20 407.50,320.30 415.50,325.90 423.50,328.00 431.50,320.30 455.50,327.00 471.50,323.70" stroke="#0000ff" stroke-width="1.05" fill="none" stroke-linejoin="round"/>
<path d="M63.50,298.96L66.14,303.56L60.86,303.56Z" fill="#0000ff"/>
<path d="M71.50,297.25L74.14,301.85L68.86,301.85Z" fill="#0000ff"/>
<path d="M87.50,305.66L90.14,310.25L84.86,310.25Z" fill="#0000ff"/>
<path d="M103.50,298.36L106.14,302.95L100.86,302.95Z" fill="#0000ff"/>
<path d="M119.50,297.36L122.14,301.95L116.86,301.95Z" fill="#0000ff"/>
<path d="M127.50,308.16L130.15,312.75L124.86,312.75Z" fill="#0000ff"/>
<path d="M135.50,308.16L138.15,312.75L132.85,312.75Z" fill="#0000ff"/>
<path d="M143.50,320.46L146.15,325.06L140.85,325.06Z" fill="#0000ff"/>
<path d="M151.50,302.16L154.15,306.75L148.85,306.75Z" fill="#0000ff"/>
<path d="M167.50,315.66L170.15,320.25L164.85,320.25Z" fill="#0000ff"/>
<path d="M199.50,313.16L202.15,317.75L196.85,317.75Z" fill="#0000ff"/>
<path d="M215.50,331.86L218.15,336.45L212.85,336.45Z" fill="#0000ff"/>
<path d="M223.50,308.16L226.15,312.75L220.85,312.75Z" fill="#0000ff"/>
<path d="M231.50,319.36L234.15,323.95L228.85,323.95Z" fill="#0000ff"/>
<path d="M239.50,330.36L242.15,334.95L236.85,334.95Z" fill="#0000ff"/>
<path d="M247.50,317.36L250.15,321.95L244.85,321.95Z" fill="#0000ff"/>
<path d="M255.50,315.36L258.14,319.95L252.85,319.95Z" fill="#0000ff"/>
<path d="M271.50,316.86L274.14,321.45L268.86,321.45Z" fill="#0000ff"/>
<path d="M295.50,325.36L298.14,329.95L292.86,329.95Z" fill="#0000ff"/>
<path d="M311.50,318.75L314.14,323.35L308.86,323.35Z" fill="#0000ff"/>
<path d="M327.50,308.96L330.14,313.56L324.86,313.56Z" fill="#0000ff"/>
<path d="M335.50,294.75L338.14,299.35L332.86,299.35Z" fill="#0000ff"/>
<path d="M343.50,310.36L346.14,314.95L340.86,314.95Z" fill="#0000ff"/>
<path d="M351.50,329.96L354.14,334.56L348.86,334.56Z" fill="#0000ff"/>
<path d="M359.50,313.16L362.14,317.75L356.86,317.75Z" fill="#0000ff"/>
<path d="M375.50,314.86L378.14,319.45L372.86,319.45Z" fill="#0000ff"/>
<path d="M383.50,327.06L386.14,331.65L380.86,331.65Z" fill="#0000ff"/>
<path d="M391.50,347.56L394.14,352.15L388.86,352.15Z" fill="#0000ff"/>
<path d="M407.50,317.66L410.14,322.25L404.86,322.25Z" fill="#0000ff"/>
<path d="M415.50,323.25L418.14,327.85L412.86,327.85Z" fill="#0000ff"/>
<path d="M423.50,325.36L426.14,329.95L420.86,329.95Z" fill="#0000ff"/>
<path d="M431.50,317.66L434.14,322.25L428.86,322.25Z" fill="#0000ff"/>
<path d="M455.50,324.36L458.14,328.95L452.86,328.95Z" fill="#0000ff"/>
<path d="M471.50,321.06L474.14,325.65L468.86,325.65Z" fill="#0000ff"/>
<path d="M71.50,286.00V315.00M70.00,286.00h3.00M70.00,315.00h3.00M87.50,307.50V336.50M86.00,307.50h3.00M86.00,336.50h3.00M103.50,288.70V317.70M102.00,288.70h3.00M102.00,317.70h3.00M119.50,291.30V320.30M118.00,291.30h3.00M118.00,320.30h3.00M127.50,288.50V317.50M126.00,288.50h3.00M126.00,317.50h3.00M135.50,281.10V310.10M134.00,281.10h3.00M134.00,310.10h3.00M143.50,289.00V318.00M142.00,289.00h3.00M142.00,318.00h3.00M151.50,289.10V318.10M150.00,289.10h3.00M150.00,318.10h3.00M167.50,286.20V315.20M166.00,286.20h3.00M166.00,315.20h3.00M199.50,290.10V319.10M198.00,290.10h3.00M198.00,319.10h3.00M215.50,292.50V321.50M214.00,292.50h3.00M214.00,321.50h3.00M223.50,298.00V327.00M222.00,298.00h3.00M222.00,327.00h3.00M231.50,294.60V323.60M230.00,294.60h3.00M230.00,323.60h3.00M239.50,305.80V334.80M238.00,305.80h3.00M238.00,334.80h3.00M247.50,297.50V326.50M246.00,297.50h3.00M246.00,326.50h3.00M255.50,286.20V315.20M254.00,286.20h3.00M254.00,315.20h3.00M271.50,315.00V344.00M270.00,315.00h3.00M270.00,344.00h3.00M295.50,315.80V344.80M294.00,315.80h3.00M294.00,344.80h3.00M311.50,325.50V354.50M310.00,325.50h3.00M310.00,354.50h3.00M327.50,320.50V349.50M326.00,320.50h3.00M326.00,349.50h3.00M335.50,316.00V345.00M334.00,316.00h3.00M334.00,345.00h3.00M343.50,329.50V358.50M342.00,329.50h3.00M342.00,358.50h3.00M351.50,337.00V366.00M350.00,337.00h3.00M350.00,366.00h3.00M359.50,334.90V363.90M358.00,334.90h3.00M358.00,363.90h3.00M375.50,343.50V372.50M374.00,343.50h3.00M374.00,372.50h3.00M383.50,336.90V365.90M382.00,336.90h3.00M382.00,365.90h3.00M391.50,338.40V367.40M390.00,338.40h3.00M390.00,367.40h3.00M407.50,347.00V376.00M406.00,347.00h3.00M406.00,376.00h3.00M415.50,344.90V373.90M414.00,344.90h3.00M414.00,373.90h3.00M423.50,347.70V376.70M422.00,347.70h3.00M422.00,376.70h3.00M431.50,332.40V361.40M430.00,332.40h3.00M430.00,361.40h3.00M455.50,334.80V363.80M454.00,334.80h3.00M454.00,363.80h3.00M471.50,332.80V361.80M470.00,332.80h3.00M470.00,361.80h3.00" stroke="#00ffff" stroke-width="1.0" fill="none"/>
<polyline points="63.50,301.60 71.50,300.50 87.50,322.00 103.50,303.20 119.50,305.80 127.50,303.00 135.50,295.60 143.50,303.50 151.50,303.60 167.50,300.70 199.50,304.60 215.50,307.00 223.50,312.50 231.50,309.10 239.50,320.30 247.50,312.00 255.50,300.70 271.50,329.50 295.50,330.30 311.50,340.00 327.50,335.00 335.50,330.50 343.50,344.00 351.50,351.50 359.50,349.40 375.50,358.00 383.50,351.40 391.50,352.90 407.50,361.50 415.50,359.40 423.50,362.20 431.50,346.90 455.50,349.30 471.50,347.30" stroke="#00f0f0" stroke-width="1.05" fill="none" stroke-linejoin="round"/>
<path d="M63.50,304.25L66.14,299.65L60.86,299.65Z" fill="#00ffff"/>
<path d="M71.50,303.14L74.14,298.55L68.86,298.55Z" fill="#00ffff"/>
<path d="M87.50,324.64L90.14,320.05L84.86,320.05Z" fill="#00ffff"/>
<path d="M103.50,305.84L106.14,301.25L100.86,301.25Z" fill="#00ffff"/>
<path d="M119.50,308.44L122.14,303.85L116.86,303.85Z" fill="#00ffff"/>
<path d="M127.50,305.64L130.15,301.05L124.86,301.05Z" fill="#00ffff"/>
<path d="M135.50,298.25L138.15,293.65L132.85,293.65Z" fill="#00ffff"/>
<path d="M143.50,306.14L146.15,301.55L140.85,301.55Z" fill="#00ffff"/>
<path d="M151.50,306.25L154.15,301.65L148.85,301.65Z" fill="#00ffff"/>
<path d="M167.50,303.34L170.15,298.75L164.85,298.75Z" fill="#00ffff"/>
<path d="M199.50,307.25L202.15,302.65L196.85,302.65Z" fill="#00ffff"/>
<path d="M215.50,309.64L218.15,305.05L212.85,305.05Z" fill="#00ffff"/>
<path d="M223.50,315.14L226.15,310.55L220.85,310.55Z" fill="#00ffff"/>
<path d="M231.50,311.75L234.15,307.15L228.85,307.15Z" fill="#00ffff"/>
<path d="M239.50,322.94L242.15,318.35L236.85,318.35Z" fill="#00ffff"/>
<path d="M247.50,314.64L250.15,310.05L244.85,310.05Z" fill="#00ffff"/>
<path d="M255.50,303.34L258.14,298.75L252.85,298.75Z" fill="#00ffff"/>
<path d="M271.50,332.14L274.14,327.55L268.86,327.55Z" fill="#00ffff"/>
<path d="M295.50,332.94L298.14,328.35L292.86,328.35Z" fill="#00ffff"/>
<path d="M311.50,342.64L314.14,338.05L308.86,338.05Z" fill="#00ffff"/>
<path d="M327.50,337.64L330.14,333.05L324.86,333.05Z" fill="#00ffff"/>
<path d="M335.50,333.14L338.14,328.55L332.86,328.55Z" fill="#00ffff"/>
<path d="M343.50,346.64L346.14,342.05L340.86,342.05Z" fill="#00ffff"/>
<path d="M351.50,354.14L354.14,349.55L348.86,349.55Z" fill="#00ffff"/>
<path d="M359.50,352.04L362.14,347.44L356.86,347.44Z" fill="#00ffff"/>
<path d="M375.50,360.64L378.14,356.05L372.86,356.05Z" fill="#00ffff"/>
<path d="M383.50,354.04L386.14,349.44L380.86,349.44Z" fill="#00ffff"/>
<path d="M391.50,355.54L394.14,350.94L388.86,350.94Z" fill="#00ffff"/>
<path d="M407.50,364.14L410.14,359.55L404.86,359.55Z" fill="#00ffff"/>
<path d="M415.50,362.04L418.14,357.44L412.86,357.44Z" fill="#00ffff"/>
<path d="M423.50,364.84L426.14,360.25L420.86,360.25Z" fill="#00ffff"/>
<path d="M431.50,349.54L434.14,344.94L428.86,344.94Z" fill="#00ffff"/>
<path d="M455.50,351.94L458.14,347.35L452.86,347.35Z" fill="#00ffff"/>
<path d="M471.50,349.94L474.14,345.35L468.86,345.35Z" fill="#00ffff"/>
<path d="M71.50,283.70V312.70M70.00,283.70h3.00M70.00,312.70h3.00M87.50,292.50V321.50M86.00,292.50h3.00M86.00,321.50h3.00M103.50,287.10V316.10M102.00,287.10h3.00M102.00,316.10h3.00M119.50,291.70V320.70M118.00,291.70h3.00M118.00,320.70h3.00M127.50,284.30V313.30M126.00,284.30h3.00M126.00,313.30h3.00M135.50,273.10V302.10M134.00,273.10h3.00M134.00,302.10h3.00M143.50,280.80V309.80M142.00,280.80h3.00M142.00,309.80h3.00M151.50,289.70V318.70M150.00,289.70h3.00M150.00,318.70h3.00M167.50,280.30V309.30M166.00,280.30h3.00M166.00,309.30h3.00M199.50,284.50V313.50M198.00,284.50h3.00M198.00,313.50h3.00M215.50,294.20V323.20M214.00,294.20h3.00M214.00,323.20h3.00M223.50,290.40V319.40M222.00,290.40h3.00M222.00,319.40h3.00M231.50,291.30V320.30M230.00,291.30h3.00M230.00,320.30h3.00M239.50,291.80V320.80M238.00,291.80h3.00M238.00,320.80h3.00M247.50,288.70V317.70M246.00,288.70h3.00M246.00,317.70h3.00M255.50,282.90V311.90M254.00,282.90h3.00M254.00,311.90h3.00M271.50,300.70V329.70M270.00,300.70h3.00M270.00,329.70h3.00M295.50,303.50V332.50M294.00,303.50h3.00M294.00,332.50h3.00M311.50,313.90V342.90M310.00,313.90h3.00M310.00,342.90h3.00M327.50,308.00V337.00M326.00,308.00h3.00M326.00,337.00h3.00M335.50,299.80V328.80M334.00,299.80h3.00M334.00,328.80h3.00M343.50,312.20V341.20M342.00,312.20h3.00M342.00,341.20h3.00M351.50,316.40V345.40M350.00,316.40h3.00M350.00,345.40h3.00M359.50,314.70V343.70M358.00,314.70h3.00M358.00,343.70h3.00M375.50,319.80V348.80M374.00,319.80h3.00M374.00,348.80h3.00M383.50,314.70V343.70M382.00,314.70h3.00M382.00,343.70h3.00M391.50,321.50V350.50M390.00,321.50h3.00M390.00,350.50h3.00M407.50,326.00V355.00M406.00,326.00h3.00M406.00,355.00h3.00M415.50,315.60V344.60M414.00,315.60h3.00M414.00,344.60h3.00M423.50,314.70V343.70M422.00,314.70h3.00M422.00,343.70h3.00M431.50,320.90V349.90M430.00,320.90h3.00M430.00,349.90h3.00M455.50,318.60V347.60M454.00,318.60h3.00M454.00,347.60h3.00M471.50,317.60V346.60M470.00,317.60h3.00M470.00,346.60h3.00" stroke="#ff00ff" stroke-width="1.0" fill="none"/>
<polyline points="63.50,301.60 71.50,298.20 87.50,307.00 103.50,301.60 119.50,306.20 127.50,298.80 135.50,287.60 143.50,295.30 151.50,304.20 167.50,294.80 199.50,299.00 215.50,308.70 223.50,304.90 231.50,305.80 239.50,306.30 247.50,303.20 255.50,297.40 271.50,315.20 295.50,318.00 311.50,328.40 327.50,322.50 335.50,314.30 343.50,326.70 351.50,330.90 359.50,329.20 375.50,334.30 383.50,329.20 391.50,336.00 407.50,340.50 415.50,330.10 423.50,329.20 431.50,335.40 455.50,333.10 471.50,332.10" stroke="#ff00ff" stroke-width="1.05" fill="none" stroke-linejoin="round"/>
<path d="M63.50,298.96L66.14,303.56L60.86,303.56Z" fill="#ff00ff"/>
<path d="M71.50,295.56L74.14,300.15L68.86,300.15Z" fill="#ff00ff"/>
<path d="M87.50,304.36L90.14,308.95L84.86,308.95Z" fill="#ff00ff"/>
<path d="M103.50,298.96L106.14,303.56L100.86,303.56Z" fill="#ff00ff"/>
<path d="M119.50,303.56L122.14,308.15L116.86,308.15Z" fill="#ff00ff"/>
<path d="M127.50,296.16L130.15,300.75L124.86,300.75Z" fill="#ff00ff"/>
<path d="M135.50,284.96L138.15,289.56L132.85,289.56Z" fill="#ff00ff"/>
<path d="M143.50,292.66L146.15,297.25L140.85,297.25Z" fill="#ff00ff"/>
<path d="M151.50,301.56L154.15,306.15L148.85,306.15Z" fill="#ff00ff"/>
<path d="M167.50,292.16L170.15,296.75L164.85,296.75Z" fill="#ff00ff"/>
<path d="M199.50,296.36L202.15,300.95L196.85,300.95Z" fill="#ff00ff"/>
<path d="M215.50,306.06L218.15,310.65L212.85,310.65Z" fill="#ff00ff"/>
<path d="M223.50,302.25L226.15,306.85L220.85,306.85Z" fill="#ff00ff"/>
<path d="M231.50,303.16L234.15,307.75L228.85,307.75Z" fill="#ff00ff"/>
<path d="M239.50,303.66L242.15,308.25L236.85,308.25Z" fill="#ff00ff"/>
<path d="M247.50,300.56L250.15,305.15L244.85,305.15Z" fill="#ff00ff"/>
<path d="M255.50,294.75L258.14,299.35L252.85,299.35Z" fill="#ff00ff"/>
<path d="M271.50,312.56L274.14,317.15L268.86,317.15Z" fill="#ff00ff"/>
<path d="M295.50,315.36L298.14,319.95L292.86,319.95Z" fill="#ff00ff"/>
<path d="M311.50,325.75L314.14,330.35L308.86,330.35Z" fill="#ff00ff"/>
<path d="M327.50,319.86L330.14,324.45L324.86,324.45Z" fill="#ff00ff"/>
<path d="M335.50,311.66L338.14,316.25L332.86,316.25Z" fill="#ff00ff"/>
<path d="M343.50,324.06L346.14,328.65L340.86,328.65Z" fill="#ff00ff"/>
<path d="M351.50,328.25L354.14,332.85L348.86,332.85Z" fill="#ff00ff"/>
<path d="M359.50,326.56L362.14,331.15L356.86,331.15Z" fill="#ff00ff"/>
<path d="M375.50,331.66L378.14,336.25L372.86,336.25Z" fill="#ff00ff"/>
<path d="M383.50,326.56L386.14,331.15L380.86,331.15Z" fill="#ff00ff"/>
<path d="M391.50,333.36L394.14,337.95L388.86,337.95Z" fill="#ff00ff"/>
<path d="M407.50,337.86L410.14,342.45L404.86,342.45Z" fill="#ff00ff"/>
<path d="M415.50,327.46L418.14,332.06L412.86,332.06Z" fill="#ff00ff"/>
<path d="M423.50,326.56L426.14,331.15L420.86,331.15Z" fill="#ff00ff"/>
<path d="M431.50,332.75L434.14,337.35L428.86,337.35Z" fill="#ff00ff"/>
<path d="M455.50,330.46L458.14,335.06L452.86,335.06Z" fill="#ff00ff"/>
<path d="M471.50,329.46L474.14,334.06L468.86,334.06Z" fill="#ff00ff"/>
<rect x="66.2" y="350.3" width="96.4" height="66.1" fill="#fff" stroke="#8a8a8a" stroke-width="1"/>
<path d="M68.6,356.90H79.3" stroke="#3a3a3a" stroke-width="1"/>
<circle cx="74.00" cy="356.90" r="2.112" fill="#000"/>
<text transform="translate(82.50,360.70) scale(1,1.0)" font-size="9.3" font-family="'Liberation Serif','Times New Roman',serif" font-weight="bold" stroke="#000" stroke-width="0.35">Liyumen_SBAS #1</text>
<path d="M68.6,367.54H79.3" stroke="#f00" stroke-width="1"/>
<rect x="71.98" y="365.52" width="4.05" height="4.05" fill="#f00"/>
<text transform="translate(82.50,371.34) scale(1,1.0)" font-size="9.3" font-family="'Liberation Serif','Times New Roman',serif" font-weight="bold" stroke="#000" stroke-width="0.35">Liyumen_SBAS #2</text>
<path d="M68.6,378.18H79.3" stroke="#00f000" stroke-width="1"/>
<path d="M74.00,375.96L76.22,378.18L74.00,380.40L71.78,378.18Z" fill="#00ff00"/>
<text transform="translate(82.50,381.98) scale(1,1.0)" font-size="9.3" font-family="'Liberation Serif','Times New Roman',serif" font-weight="bold" stroke="#000" stroke-width="0.35">Liyumen_SBAS #3</text>
<path d="M68.6,388.82H79.3" stroke="#0000ff" stroke-width="1"/>
<path d="M74.00,386.49L76.33,390.54L71.67,390.54Z" fill="#0000ff"/>
<text transform="translate(82.50,392.62) scale(1,1.0)" font-size="9.3" font-family="'Liberation Serif','Times New Roman',serif" font-weight="bold" stroke="#000" stroke-width="0.35">Liyumen_SBAS #4</text>
<path d="M68.6,399.46H79.3" stroke="#00f0f0" stroke-width="1"/>
<path d="M74.00,401.79L76.33,397.74L71.67,397.74Z" fill="#00ffff"/>
<text transform="translate(82.50,403.26) scale(1,1.0)" font-size="9.3" font-family="'Liberation Serif','Times New Roman',serif" font-weight="bold" stroke="#000" stroke-width="0.35">Liyumen_SBAS #5</text>
<path d="M68.6,410.10H79.3" stroke="#ff00ff" stroke-width="1"/>
<path d="M74.00,407.77L76.33,411.82L71.67,411.82Z" fill="#ff00ff"/>
<text transform="translate(82.50,413.90) scale(1,1.0)" font-size="9.3" font-family="'Liberation Serif','Times New Roman',serif" font-weight="bold" stroke="#000" stroke-width="0.35">Liyumen_SBAS #6</text>
<text transform="translate(11.9,348.9) rotate(-90)" text-anchor="middle" font-size="13.55" font-family="'Liberation Serif','Times New Roman',serif" font-weight="bold" stroke="#000" stroke-width="0.35">Vertical Displacement (mm)</text>
</g>
</svg>
</body></html>
